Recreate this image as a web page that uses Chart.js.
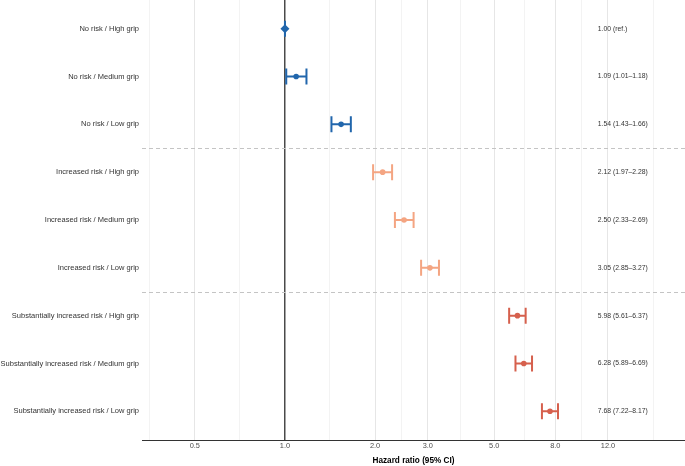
<!DOCTYPE html>
<html>
<head>
<meta charset="utf-8">
<script src="https://cdn.jsdelivr.net/npm/chart.js@4"></script>
<style>
  body { margin: 0; background: #fff; }
  canvas { display: block; }
</style>
</head>
<body>
<canvas id="forest" width="685" height="466"></canvas>
<script>
// rows, top to bottom
const categories = [
  "No risk / High grip",
  "No risk / Medium grip",
  "No risk / Low grip",
  "Increased risk / High grip",
  "Increased risk / Medium grip",
  "Increased risk / Low grip",
  "Substantially increased risk / High grip",
  "Substantially increased risk / Medium grip",
  "Substantially increased risk / Low grip"
];
const riskGroup = [0, 0, 0, 1, 1, 1, 2, 2, 2];
const hazardRatio = [1.00, 1.09, 1.54, 2.12, 2.50, 3.05, 5.98, 6.28, 7.68];
const ciLower = [1.00, 1.01, 1.43, 1.97, 2.33, 2.85, 5.61, 5.89, 7.22];
const ciUpper = [1.00, 1.18, 1.66, 2.28, 2.69, 3.27, 6.37, 6.69, 8.17];

const majorTicks = [0.5, 1, 2, 3, 5, 8, 12];
const minorTicks = [0.354, 0.707, 1.414, 2.449, 3.873, 6.325, 9.798, 16.97];
const separators = [3.5, 6.5];

const groupColors = ["#2166AC", "#F4A582", "#D6604D"];
const fontFamily = "'Liberation Sans', Arial, sans-serif";
const textX = 11.1; // where the HR column starts, in hazard-ratio units

const labelText = hazardRatio.map((hr, i) =>
  i === 0 ? hr.toFixed(2) + " (ref.)"
          : hr.toFixed(2) + " (" + ciLower[i].toFixed(2) + "\u2013" + ciUpper[i].toFixed(2) + ")"
);

// one scatter dataset per risk group
const datasets = [0, 1, 2].map((g) => {
  const pts = [];
  const styles = [];
  const radii = [];
  hazardRatio.forEach((hr, i) => {
    if (riskGroup[i] !== g) return;
    pts.push({ x: hr, y: i + 1 });
    styles.push(i === 0 ? "rectRot" : "circle");
    radii.push(i === 0 ? 4.5 : 2.8);
  });
  return {
    data: pts,
    backgroundColor: groupColors[g],
    borderColor: groupColors[g],
    borderWidth: 0,
    pointStyle: styles,
    pointRadius: radii
  };
});

// error bars + dashed separators
const forestExtras = {
  id: "forestExtras",
  beforeDatasetsDraw(chart) {
    const { ctx, chartArea, scales } = chart;
    const xs = scales.x, ys = scales.y;
    ctx.save();
    ctx.strokeStyle = "#c4c4c4";
    ctx.lineWidth = 1;
    ctx.setLineDash([4, 3]);
    separators.forEach((v) => {
      const y = Math.round(ys.getPixelForValue(v)) + 0.5;
      ctx.beginPath();
      ctx.moveTo(chartArea.left, y);
      ctx.lineTo(chartArea.right, y);
      ctx.stroke();
    });
    ctx.setLineDash([]);
    ctx.lineWidth = 2;
    hazardRatio.forEach((hr, i) => {
      const y = ys.getPixelForValue(i + 1);
      const x1 = xs.getPixelForValue(ciLower[i]);
      const x2 = xs.getPixelForValue(ciUpper[i]);
      ctx.strokeStyle = groupColors[riskGroup[i]];
      ctx.beginPath();
      ctx.moveTo(x1, y); ctx.lineTo(x2, y);
      ctx.moveTo(x1, y - 8); ctx.lineTo(x1, y + 8);
      ctx.moveTo(x2, y - 8); ctx.lineTo(x2, y + 8);
      ctx.stroke();
    });
    ctx.restore();
  },
  afterDatasetsDraw(chart) {
    const { ctx, scales } = chart;
    ctx.save();
    ctx.fillStyle = "#333";
    ctx.font = "6.8px " + fontFamily;
    ctx.textAlign = "left";
    ctx.textBaseline = "middle";
    labelText.forEach((t, i) => {
      ctx.fillText(t, scales.x.getPixelForValue(textX), scales.y.getPixelForValue(i + 1));
    });
    ctx.restore();
  }
};

new Chart(document.getElementById("forest"), {
  type: "scatter",
  data: { datasets: datasets },
  options: {
    responsive: false,
    animation: false,
    layout: { padding: 0, autoPadding: false },
    plugins: {
      legend: { display: false },
      tooltip: { enabled: false }
    },
    scales: {
      x: {
        type: "logarithmic",
        min: 0.333,
        max: 21.7,
        bounds: "data",
        afterBuildTicks: (scale) => {
          scale.ticks = majorTicks.concat(minorTicks)
            .sort((a, b) => a - b)
            .map((v) => ({ value: v }));
        },
        afterFit: (scale) => {
          scale.height = 26;
          scale.paddingLeft = 0;
          scale.paddingRight = 0;
        },
        ticks: {
          autoSkip: false,
          maxRotation: 0,
          padding: 2,
          color: "#4d4d4d",
          font: { family: fontFamily, size: 7.4 },
          callback: (v) => (majorTicks.includes(v) ? v.toFixed(1) : "")
        },
        grid: {
          drawTicks: false,
          color: (c) => {
            const v = c.tick && c.tick.value;
            if (v === 1) return "#4a4a4a";
            return majorTicks.includes(v) ? "#e6e6e6" : "#f3f3f3";
          },
          lineWidth: (c) => (c.tick && c.tick.value === 1 ? 1.5 : 1)
        },
        border: { display: true, color: "#333", width: 1 },
        title: {
          display: true,
          text: "Hazard ratio (95% CI)",
          color: "#000",
          font: { family: fontFamily, size: 8.2, weight: "bold" },
          padding: { top: 0, bottom: 0 }
        }
      },
      y: {
        type: "linear",
        min: 0.4,
        max: 9.6,
        reverse: true,
        afterBuildTicks: (scale) => {
          scale.ticks = categories.map((c, i) => ({ value: i + 1 }));
        },
        afterFit: (scale) => {
          scale.width = 142;
          scale.paddingTop = 0;
          scale.paddingBottom = 0;
        },
        ticks: {
          autoSkip: false,
          padding: 3,
          color: "#333",
          font: { family: fontFamily, size: 7.5 },
          callback: (v) => categories[v - 1] || ""
        },
        grid: { display: false, drawTicks: false },
        border: { display: false }
      }
    }
  },
  plugins: [forestExtras]
});
</script>
</body>
</html>
